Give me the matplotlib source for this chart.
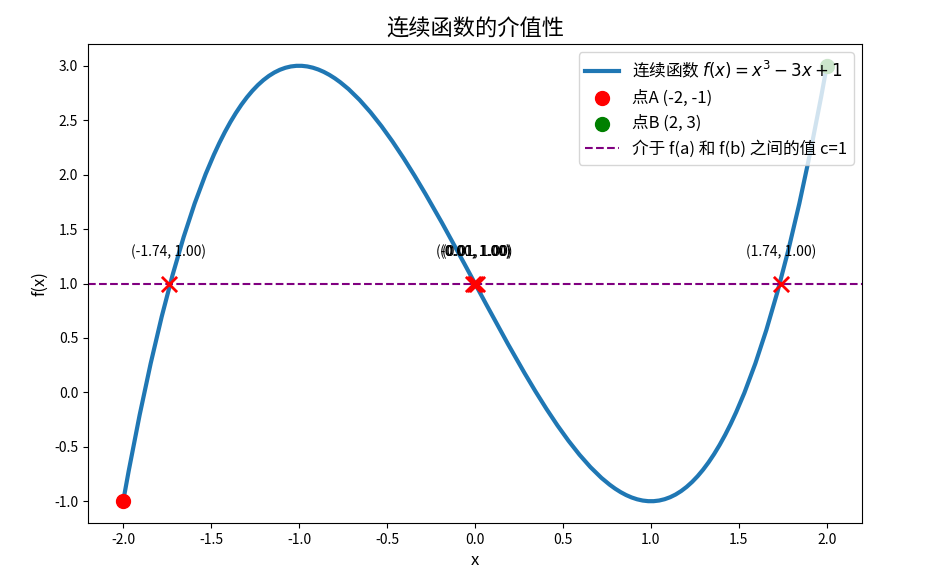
import matplotlib
matplotlib.use("Agg")
import matplotlib.pyplot as plt
from matplotlib.path import Path
from matplotlib.patches import PathPatch

plt.rcParams['font.family'] = ['Noto Sans CJK SC', 'DejaVu Sans']
plt.rcParams['axes.unicode_minus'] = False

# f(x) = x^3 - 3x + 1 on [-2, 2] as an exact cubic Bezier segment
bezier_x = [-2.0, -2/3, 2/3, 2.0]
bezier_y = [-1.0, 11.0, -9.0, 3.0]
point_a = (-2, -1)
point_b = (2, 3)
c_value = 1
cross_x = [-1.74, -0.01, 0.0, 0.01, 1.74]
cross_y = [1.0, 1.0, 1.0, 1.0, 1.0]

fig = plt.figure(figsize=(9.43, 5.8), dpi=100)
ax = fig.add_axes([88/943, 57/580, 774/943, 479/580])
path = Path(list(zip(bezier_x, bezier_y)), [Path.MOVETO, Path.CURVE4, Path.CURVE4, Path.CURVE4])
ax.add_patch(PathPatch(path, fill=False, edgecolor='#1f77b4', lw=3, capstyle='butt'))
ax.plot([], [], color='#1f77b4', lw=3, label=r'连续函数 $f(x) = x^3 - 3x + 1$')
ax.scatter([point_a[0]], [point_a[1]], color='red', s=100, zorder=5, label='点A (-2, -1)')
ax.scatter([point_b[0]], [point_b[1]], color='green', s=100, zorder=5, label='点B (2, 3)')
ax.axhline(c_value, color='purple', ls='--', lw=1.5, label='介于 f(a) 和 f(b) 之间的值 c=1')
for x, y in zip(cross_x, cross_y):
    ax.scatter([x], [y], color='red', marker='x', s=120, linewidths=2, zorder=6)
    ax.annotate(f'({x:.2f}, {y:.2f})', (x, y), xytext=(0, 20), textcoords='offset points',
                ha='center', fontsize=10)
ax.set_xlim(-2.2, 2.2)
ax.set_ylim(-1.2, 3.2)
ax.set_xlabel('x', fontsize=12)
ax.set_ylabel('f(x)', fontsize=12)
ax.set_title('连续函数的介值性', fontsize=16)
ax.legend(loc='upper right', fontsize=12)
fig.savefig('out.png', dpi=100)
